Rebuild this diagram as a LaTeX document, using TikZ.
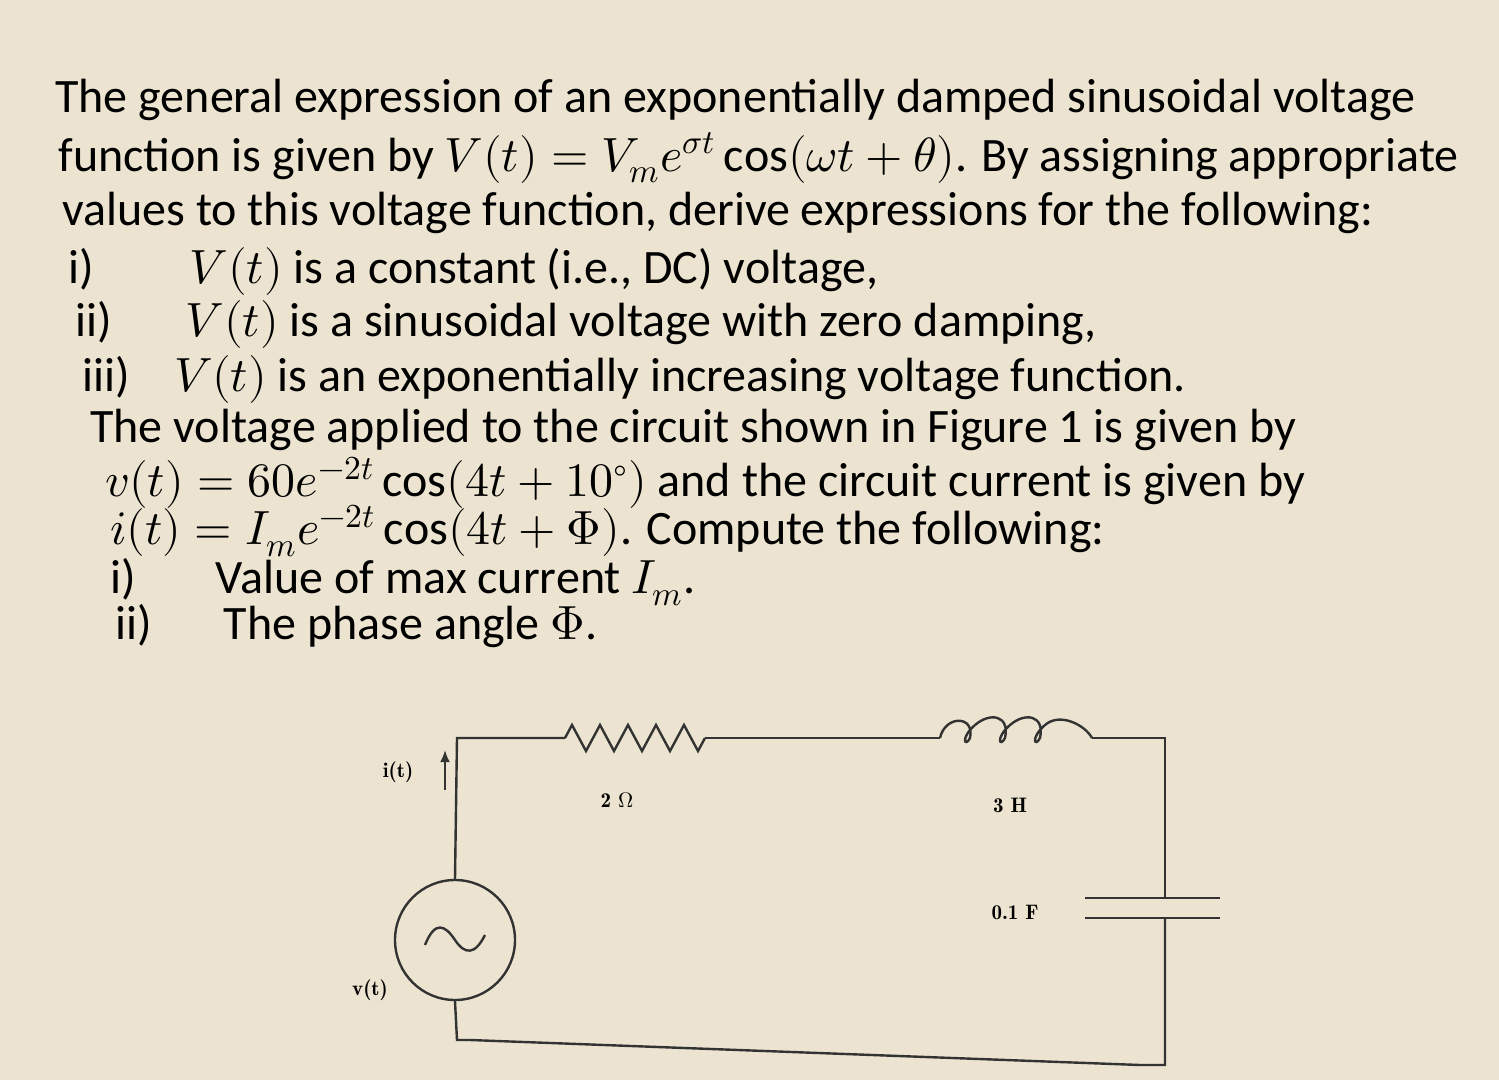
\documentclass[tikz,border=0pt]{standalone}
\usepackage{fontspec}
\setmainfont{Carlito}
\usepackage{unicode-math}
\setmathfont{Latin Modern Math}
\usetikzlibrary{decorations.pathmorphing,arrows.meta}
\tikzset{ln/.style={anchor=west,font=\fontsize{24}{26}\selectfont,inner sep=0},
 lbl/.style={font=\fontfamily{lmr}\fontsize{10.5}{12}\selectfont\bfseries,inner sep=0},
 wire/.style={line width=1.2pt,black!80}}
\begin{document}
\begin{tikzpicture}[x=0.5pt,y=-0.5pt]
\fill[color={rgb,255:red,236;green,228;blue,208}] (0,0) rectangle (1499,1080);
\useasboundingbox (0,0) rectangle (1499,1080);
\node[ln] (l1) at (55,100) {The general expression of an exponentially damped sinusoidal voltage};
\node[ln] (l2) at (58,158) {function is given by $V(t)=V_m e^{\sigma t}\cos(\omega t+\theta)$. By assigning appropriate};
\node[ln] (l3) at (62,213) {values to this voltage function, derive expressions for the following:};
\node[ln] (l4) at (68,272) {i)\hspace{48pt}$V(t)$ is a constant (i.e., DC) voltage,};
\node[ln] (l5) at (75,325) {ii)\hspace{37pt}$V(t)$ is a sinusoidal voltage with zero damping,};
\node[ln] (l6) at (82,380) {iii)\hspace{22pt}$V(t)$ is an exponentially increasing voltage function.};
\node[ln] (l7) at (90,430) {The voltage applied to the circuit shown in Figure 1 is given by};
\node[ln] (l8) at (105,483) {$v(t)=60e^{-2t}\cos(4t+10^\circ)$ and the circuit current is given by};
\node[ln] (l9) at (110,531) {$i(t)=I_m e^{-2t}\cos(4t+\Phi)$. Compute the following:};
\node[ln] (l10) at (110,582) {i)\hspace{40pt}Value of max current $I_m$.};
\node[ln] (l11) at (115,626) {ii)\hspace{36pt}The phase angle $\Phi$.};
% circuit
\coordinate (tl) at (457,738);
\coordinate (r1) at (565,738);
\coordinate (r2) at (705,738);
\coordinate (i1) at (940,738);
\coordinate (i2) at (1092,738);
\coordinate (tr) at (1165,738);
\coordinate (c1) at (1165,898);
\coordinate (c2) at (1165,918);
\coordinate (br) at (1140,1065);
\coordinate (bl) at (457,1040);
\node[circle,draw,wire,minimum size=60pt,inner sep=0] (src) at (455,940) {};
\draw[wire] (src.north) -- (tl) -- (r1);
\draw[wire,decorate,decoration={zigzag,segment length=14pt,amplitude=6.5pt}] (r1) -- (r2);
\draw[wire] (r2) -- (i1);
\draw[wire] (i1) .. controls (945,715) and (975,715) .. (970,738) .. controls (965,748) and (960,738) .. (975,725)
 .. controls (990,712) and (1010,715) .. (1005,738) .. controls (1000,748) and (995,738) .. (1010,725)
 .. controls (1025,712) and (1045,715) .. (1040,738) .. controls (1035,748) and (1030,738) .. (1045,725)
 .. controls (1060,712) and (1085,725) .. (i2);
\draw[wire] (i2) -- (tr) -- (c1);
\draw[wire] (1085,898) -- (1220,898);
\draw[wire] (1085,918) -- (1220,918);
\draw[wire] (c2) -- (1165,1065) -- (br) -- (470,1040) -- (bl) -- (src.south);
\draw[wire] (425,945) .. controls (435,920) and (445,925) .. (455,940) .. controls (465,955) and (475,955) .. (485,935);
\draw[wire,-{Latex[length=6pt,width=5pt]}] (445,790) -- (445,750);
\node[lbl] (it) at (398,772) {i(t)};
\node[lbl] (rl) at (617,800) {2 $\Omega$};
\node[lbl] (ll) at (1010,805) {3 H};
\node[lbl] (cl) at (1015,912) {0.1 F};
\node[lbl] (vl) at (370,990) {v(t)};
\end{tikzpicture}
\end{document}
